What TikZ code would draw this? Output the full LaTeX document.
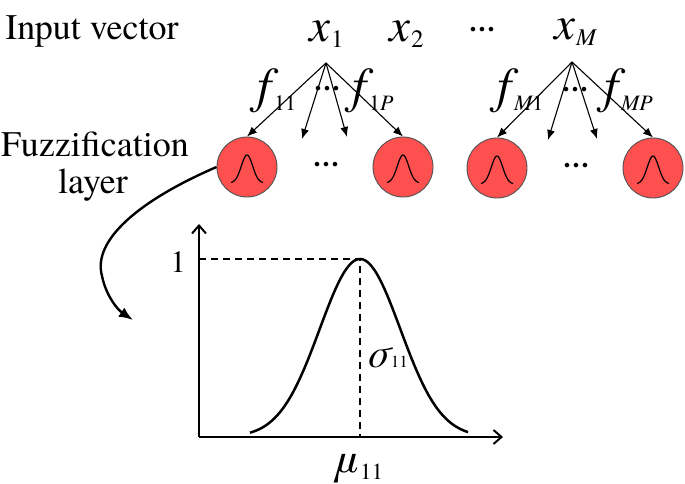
\documentclass[tikz,border=0pt]{standalone}
\usepackage{fontspec}
\setmainfont{TeX Gyre Termes}
\usetikzlibrary{arrows.meta,calc}
\definecolor{neuronred}{RGB}{255,80,80}
\definecolor{rimgray}{RGB}{80,80,80}
\newcommand\fsz[1]{\fontsize{#1}{#1}\selectfont}
\tikzset{
  neuron/.style={circle, draw=rimgray, line width=0.9pt, fill=neuronred, minimum size=60pt, inner sep=0pt},
  fan/.style={-{Latex[length=10pt,width=8pt]}, line width=1.1pt},
  axisline/.style={-{Straight Barb[length=8pt,width=14pt]}, line width=2pt},
  guide/.style={dash pattern=on 7pt off 5pt, line width=1.8pt},
  lbl/.style={inner sep=0pt, anchor=base west},
  txt/.style={inner sep=0pt, anchor=base},
  bell/.style={line width=1.2pt},
  dotsnode/.style={inner sep=0pt, anchor=base, font=\fsz{27}\bfseries},
}
\begin{document}
\begin{tikzpicture}[x=1pt,y=-1pt]
\useasboundingbox (0,0) rectangle (685,484);

% left texts
\node[txt] (inp) at (92,40) {\fsz{36}Input vector};
\node[txt] (fuz) at (95,157) {\fsz{36}Fuzzification};
\node[txt] (lay) at (93,193) {\fsz{36}layer};

% inputs
\node[lbl] (x1) at (309,42) {\fsz{47}\itshape x\upshape\kern1pt\raisebox{-6pt}{\fsz{25}1}};
\node[lbl] (x2) at (389,42) {\fsz{47}\itshape x\upshape\kern1pt\raisebox{-6pt}{\fsz{25}2}};
\node[dotsnode] (xd) at (482,32) {…};
\node[lbl] (xM) at (554,40) {\fsz{47}\itshape x\kern1pt\raisebox{-6pt}{\fsz{24}M}};

% neurons
\node[neuron] (c1) at (247,167) {};
\node[neuron] (c2) at (403,167) {};
\node[neuron] (c3) at (497,168) {};
\node[neuron] (c4) at (653,168) {};
\foreach \c in {c1,c2,c3,c4}
  \draw[bell, shift={(\c)}] plot[domain=-16:16, samples=41] (\x, {16-28*exp(-((\x/8)*(\x/8)))});
\node[dotsnode] (cd1) at (326,166) {…};
\node[dotsnode] (cd2) at (576,167) {…};

% fans
\coordinate (a1) at (326,63);
\coordinate (m11) at (302,139);
\coordinate (m12) at (347,137);
\draw[fan] (a1) -- (c1.north);
\draw[fan] (a1) -- (m11);
\draw[fan] (a1) -- (m12);
\draw[fan] (a1) -- (c2.north);
\node[dotsnode] (fd1) at (327,91) {…};

\coordinate (aM) at (572,62);
\coordinate (mM1) at (548,140);
\coordinate (mM2) at (597,139);
\draw[fan] (aM) -- (c3.north);
\draw[fan] (aM) -- (mM1);
\draw[fan] (aM) -- (mM2);
\draw[fan] (aM) -- (c4.north);
\node[dotsnode] (fd2) at (575,92) {…};

% f labels
\node[lbl] (f11) at (257,103) {\fsz{50}\itshape f\upshape\kern3pt\raisebox{-7pt}{\fsz{22}11}};
\node[lbl] (f1P) at (352,103) {\fsz{50}\itshape f\upshape\kern3pt\raisebox{-7pt}{\fsz{22}1\itshape P}};
\node[lbl] (fM1) at (497,103) {\fsz{50}\itshape f\kern3pt\raisebox{-7pt}{\fsz{22}M\upshape 1}};
\node[lbl] (fMP) at (604,103) {\fsz{50}\itshape f\kern3pt\raisebox{-7pt}{\fsz{22}MP}};

% curved arrow
\coordinate (tip) at (133,320);
\draw[line width=2.4pt, -{Latex[length=14pt,width=11pt]}]
  (c1.west) .. controls (140,200) and (92,240) .. (102,276)
  .. controls (106,296) and (118,310) .. (tip);

% graph
\coordinate (O) at (199,437);
\coordinate (ytop) at (199,224);
\coordinate (xend) at (503,437);
\coordinate (peak) at (360,259);
\coordinate (one) at (199,259);
\coordinate (mu) at (360,437);
\draw[axisline] (O) -- (ytop);
\draw[axisline] (O) -- (xend);
\draw[guide] (one) -- (peak) -- (mu);
\draw[line width=2.5pt, shift={(peak)}] plot[domain=-110:108, samples=90] (\x, {178-178*exp(-((\x/57)*(\x/57)))});
\node[txt] (lab1) at (178,272) {\fsz{31}1};
\node[lbl] (sig) at (366,367) {\fsz{40}\itshape σ\upshape\kern1pt\raisebox{0pt}{\fsz{17}11}};
\node[lbl] (muL) at (333,472) {\fsz{42}\itshape μ\upshape\kern2pt\raisebox{-7pt}{\fsz{23}11}};
\end{tikzpicture}
\end{document}
